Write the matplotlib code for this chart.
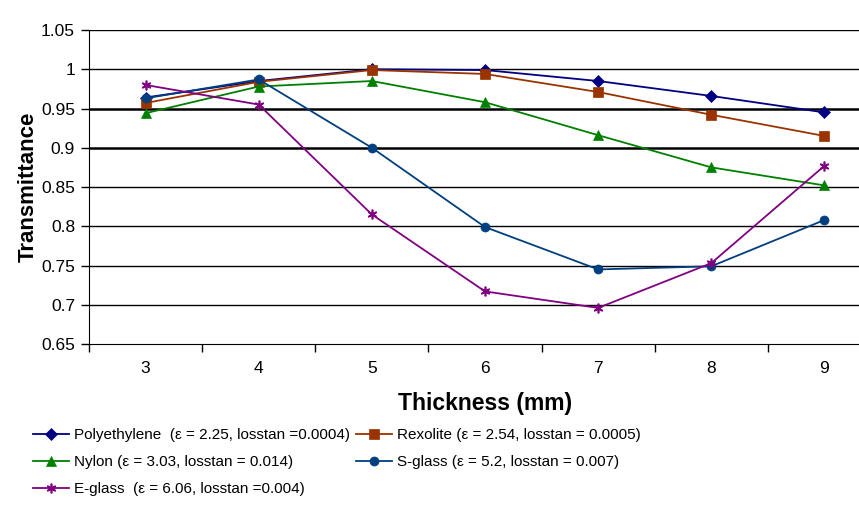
import matplotlib
matplotlib.use("Agg")
import matplotlib.pyplot as plt

thickness = [3, 4, 5, 6, 7, 8, 9]
polyethylene = [0.964, 0.985, 1.000, 0.999, 0.985, 0.966, 0.945]
rexolite = [0.957, 0.984, 0.999, 0.994, 0.971, 0.942, 0.915]
nylon = [0.944, 0.978, 0.985, 0.958, 0.916, 0.875, 0.852]
s_glass = [0.963, 0.987, 0.900, 0.799, 0.745, 0.749, 0.808]
e_glass = [0.980, 0.955, 0.815, 0.717, 0.696, 0.753, 0.877]
labels = [
    "Polyethylene  (\u03b5 = 2.25, losstan =0.0004)",
    "Rexolite (\u03b5 = 2.54, losstan = 0.0005)",
    "Nylon (\u03b5 = 3.03, losstan = 0.014)",
    "S-glass (\u03b5 = 5.2, losstan = 0.007)",
    "E-glass  (\u03b5 = 6.06, losstan =0.004)",
]
yticks = [0.65, 0.7, 0.75, 0.8, 0.85, 0.9, 0.95, 1.0, 1.05]
ytick_labels = ["0.65", "0.7", "0.75", "0.8", "0.85", "0.9", "0.95", "1", "1.05"]

plt.rcParams['font.family'] = ['Liberation Sans', 'DejaVu Sans']

fig = plt.figure(figsize=(8.59, 5.11), dpi=100)
ax = fig.add_axes([89/859, 1-344/511, (881-89)/859, (344-30)/511])

series = [polyethylene, rexolite, nylon, s_glass, e_glass]
colors = ["#000080", "#993300", "#008000", "#003f7f", "#800080"]
markers = ["D", "s", "^", "o", (6, 2, 0)]
msizes = [6, 6.5, 7, 6.5, 7]
handles = []
for vals, c, m, ms, lab in zip(series, colors, markers, msizes, labels):
    h, = ax.plot(thickness, vals, color=c, lw=1.3, marker=m, ms=ms,
                 markeredgecolor=c, markerfacecolor=c,
                 markeredgewidth=1.2 if m == (6, 2, 0) else 0.5,
                 label=lab, zorder=3)
    handles.append(h)

ax.set_xlim(2.5, 9.5)
ax.set_ylim(0.65, 1.05)
ax.set_yticks(yticks)
ax.set_yticklabels(ytick_labels, fontsize=12.5)
for y in yticks[1:]:
    lw = 1.8 if y in (0.9, 0.95) else 1.0
    ax.axhline(y, color="black", lw=lw, zorder=1)

ax.set_xticks(thickness)
ax.set_xticklabels([str(t) for t in thickness], fontsize=12.5)
ax.tick_params(axis='x', which='major', length=0, pad=12)
ax.set_xticks([t - 0.5 for t in thickness] + [9.5], minor=True)
ax.tick_params(axis='x', which='minor', length=6, width=1, color='black')
ax.tick_params(axis='y', length=6, width=1, pad=4)

for s in ["top", "right"]:
    ax.spines[s].set_visible(False)
ax.spines["left"].set_color("black")
ax.spines["bottom"].set_color("black")

ax.set_ylabel("Transmittance", fontsize=16, fontweight="bold", labelpad=2)
ax.set_xlabel("Thickness (mm)", fontsize=16.5, fontweight="bold", labelpad=12)

order = [0, 2, 4, 1, 3]
leg = fig.legend([handles[i] for i in order], [labels[i] for i in order],
                 loc="upper left", bbox_to_anchor=(27/859, 1-422/511), ncol=2,
                 frameon=False, prop={"size": 11},
                 handlelength=2.35, handletextpad=0.35, columnspacing=0.35,
                 labelspacing=0.85, borderaxespad=0)

fig.savefig("out.png", dpi=100)
